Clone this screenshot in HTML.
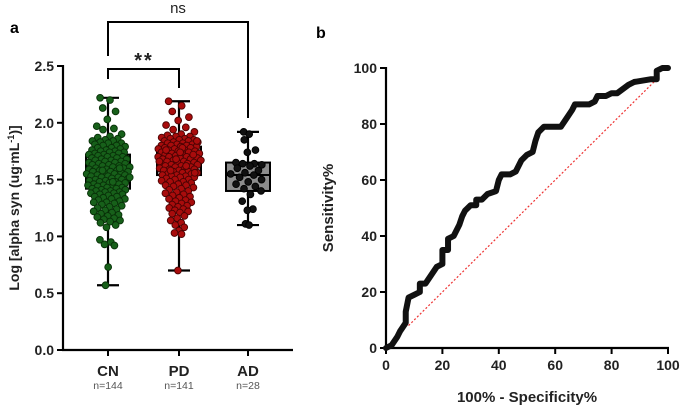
<!DOCTYPE html>
<html><head><meta charset="utf-8">
<style>
html,body{margin:0;padding:0;background:#fff;}
svg{display:block;font-family:"Liberation Sans",Arial,sans-serif;}
</style></head>
<body>
<svg id="fig" width="685" height="411" viewBox="0 0 685 411" xmlns="http://www.w3.org/2000/svg">
<g id="panelA"></g>
<g id="panelB"></g>
</svg>
<script>
// ---------- Panel A data ----------
const groups = ["CN","PD","AD"];
const groupN = ["n=144","n=141","n=28"];
const yTicksA = [0.0,0.5,1.0,1.5,2.0,2.5];
const boxQ1 = [1.42,1.54,1.40];
const boxMed = [1.57,1.70,1.54];
const boxQ3 = [1.72,1.79,1.65];
const boxMin = [0.57,0.70,1.10];
const boxMax = [2.22,2.19,1.92];
const cnValues = [2.22,2.20,2.13,2.10,2.03,1.97,1.95,1.94,1.90,1.88,1.87,1.86,1.85,1.84,1.84,1.83,1.82,1.82,1.81,1.80,1.80,1.79,1.78,1.78,1.77,1.76,1.76,1.75,1.75,1.74,1.74,1.73,1.73,1.72,1.72,1.71,1.71,1.70,1.70,1.69,1.69,1.68,1.68,1.67,1.67,1.66,1.66,1.65,1.65,1.64,1.64,1.63,1.63,1.62,1.62,1.61,1.61,1.60,1.60,1.59,1.59,1.58,1.58,1.57,1.57,1.57,1.56,1.56,1.55,1.55,1.54,1.54,1.53,1.53,1.52,1.52,1.51,1.51,1.50,1.50,1.49,1.49,1.48,1.48,1.47,1.47,1.46,1.46,1.45,1.45,1.44,1.44,1.43,1.43,1.42,1.42,1.41,1.41,1.40,1.40,1.39,1.39,1.38,1.38,1.37,1.37,1.36,1.35,1.35,1.34,1.33,1.33,1.32,1.31,1.30,1.30,1.29,1.28,1.27,1.26,1.25,1.24,1.23,1.22,1.21,1.20,1.19,1.18,1.17,1.16,1.15,1.14,1.13,1.12,1.10,1.08,0.97,0.95,0.93,0.92,0.73,0.57,1.60,1.58,1.52,1.48];
const pdValues = [2.19,2.15,2.10,2.05,2.02,1.98,1.96,1.94,1.92,1.90,1.89,1.88,1.88,1.87,1.86,1.86,1.85,1.85,1.84,1.84,1.83,1.83,1.82,1.82,1.81,1.81,1.80,1.80,1.80,1.79,1.79,1.78,1.78,1.77,1.77,1.76,1.76,1.75,1.75,1.74,1.74,1.73,1.73,1.72,1.72,1.71,1.71,1.70,1.70,1.70,1.69,1.69,1.68,1.68,1.67,1.67,1.66,1.66,1.65,1.65,1.64,1.64,1.63,1.63,1.62,1.62,1.61,1.61,1.60,1.60,1.59,1.59,1.58,1.58,1.57,1.57,1.56,1.56,1.55,1.55,1.54,1.54,1.53,1.53,1.52,1.52,1.51,1.50,1.50,1.49,1.48,1.48,1.47,1.46,1.45,1.45,1.44,1.43,1.42,1.41,1.40,1.39,1.38,1.37,1.36,1.35,1.34,1.33,1.32,1.31,1.30,1.29,1.28,1.27,1.26,1.25,1.24,1.23,1.22,1.21,1.20,1.18,1.16,1.14,1.12,1.10,1.08,1.05,1.03,1.02,0.70,1.84,1.78,1.76,1.72,1.68,1.66,1.62,1.58,1.56,1.74];
const adValues = [1.92,1.90,1.85,1.76,1.74,1.65,1.64,1.64,1.63,1.62,1.60,1.58,1.56,1.55,1.54,1.52,1.50,1.48,1.46,1.44,1.42,1.40,1.37,1.31,1.24,1.23,1.11,1.10];
const groupValues = [cnValues, pdValues, adValues];
const pointFill = ["#17601a","#a80c0c","#111111"];
const pointStroke = ["#083008","#4a0303","#000"];

// ---------- Panel B data ----------
const rocX = [0,2,4,5,7,7,8,10,12,12,14,16,18,20,20,22,22,24,26,27,28,30,32,32,34,36,39,40,41,44,46,48,50,52,53,54,56,58,62,64,66,67,72,74,75,78,80,82,86,88,94,96,96,98,100];
const rocY = [0,1,4,6,9,13,18,19,20,23,23,26,29,30,35,35,39,40,44,47,49,51,51,53,53,55,56,60,62,62,63,67,69,70,74,77,79,79,79,82,85,87,87,88,90,90,91,91,94,95,96,96,99,100,100];
const ticksB = [0,20,40,60,80,100];

const NS="http://www.w3.org/2000/svg";
function mk(parent, tag, attrs, text){
  const e=document.createElementNS(NS,tag);
  for(const k in attrs) e.setAttribute(k,attrs[k]);
  if(text!==undefined) e.textContent=text;
  parent.appendChild(e); return e;
}

// ----- Panel A -----
(function(){
  const g=document.getElementById('panelA');
  const ax0=63, y0=350, y25=66;
  const yS=v=>y0-(v/2.5)*(y0-y25);
  const xC=[108,179,248];
  const hw=22;
  let t;
  t=mk(g,'text',{x:10,y:33,'font-size':16,'font-weight':'bold'},'a');
   
  let ya=mk(g,'line',{x1:ax0,y1:y25-1,x2:ax0,y2:y0+1,stroke:'#000','stroke-width':2.2});
   
  let xa=mk(g,'line',{x1:ax0-1,y1:y0,x2:293,y2:y0,stroke:'#000','stroke-width':2.2});
   
  yTicksA.forEach(v=>{
    const y=yS(v);
    let l=mk(g,'line',{x1:ax0-6,y1:y,x2:ax0,y2:y,stroke:'#000','stroke-width':2});
     
    let tx=mk(g,'text',{x:ax0-9,y:y+5,'font-size':14,'font-weight':'bold','text-anchor':'end',fill:'#222'},v.toFixed(1));
     
  });
  t=mk(g,'text',{x:0,y:0,'font-size':14,'font-weight':'bold','text-anchor':'middle',fill:'#222',transform:'translate(19,208) rotate(-90)'});
  t.innerHTML='Log [alpha syn (ug<tspan dy="-5" font-size="9">.</tspan><tspan dy="5">mL</tspan><tspan dy="-5" font-size="9">-1</tspan><tspan dy="5">)]</tspan>';
   
  groups.forEach((name,i)=>{
    const x=xC[i];
    let tk=mk(g,'line',{x1:x,y1:y0,x2:x,y2:y0+6,stroke:'#000','stroke-width':2});
     
    let lb=mk(g,'text',{x:x,y:376,'font-size':15,'font-weight':'bold','text-anchor':'middle',fill:'#222'},name);
     
    let nl=mk(g,'text',{x:x,y:389,'font-size':10.5,'text-anchor':'middle',fill:'#555'},groupN[i]);
     
    let w=mk(g,'line',{x1:x,y1:yS(boxMin[i]),x2:x,y2:yS(boxMax[i]),stroke:'#000','stroke-width':2.2});
     
    [boxMin[i],boxMax[i]].forEach(v=>{
      let c=mk(g,'line',{x1:x-11,y1:yS(v),x2:x+11,y2:yS(v),stroke:'#000','stroke-width':2.2});
       
    });
    let b=mk(g,'rect',{x:x-hw,y:yS(boxQ3[i]),width:hw*2,height:yS(boxQ1[i])-yS(boxQ3[i]),fill:'#8c8c8c',stroke:'#000','stroke-width':2});
     
    let m=mk(g,'line',{x1:x-hw,y1:yS(boxMed[i]),x2:x+hw,y2:yS(boxMed[i]),stroke:'#000','stroke-width':2});
     
    const vals=groupValues[i];
    const range=(boxMax[i]-boxMin[i]);
    vals.forEach((v,k)=>{
      const dens=Math.max(0.15,1-Math.abs(v-boxMed[i])/(range*0.6));
      const j=(((k*0.6180339)%1)*2-1);
      const px=x+j*(i===2?19:23)*dens;
      let p=mk(g,'circle',{cx:px,cy:yS(v),r:3.4,fill:pointFill[i],stroke:pointStroke[i],'stroke-width':0.9});
       
    });
  });
  let br1=mk(g,'path',{d:'M108,56 L108,22 L248,22 L248,118',fill:'none',stroke:'#000','stroke-width':2});
   
  t=mk(g,'text',{x:178,y:13,'font-size':15,'text-anchor':'middle',fill:'#222'},'ns');
   
  let br2=mk(g,'path',{d:'M108,79 L108,69 L179,69 L179,88',fill:'none',stroke:'#000','stroke-width':2});
   
  t=mk(g,'text',{x:144,y:67,'font-size':20,'font-weight':'bold','text-anchor':'middle',fill:'#222','letter-spacing':'2'},'**');
   
})();

// ----- Panel B -----
(function(){
  const g=document.getElementById('panelB');
  const x0=386,x1=668,y0=348,y1=68;
  const xS=v=>x0+v/100*(x1-x0);
  const yS=v=>y0-v/100*(y0-y1);
  let t=mk(g,'text',{x:316,y:38,'font-size':16,'font-weight':'bold'},'b');
   
  let ya=mk(g,'line',{x1:x0,y1:y1-1,x2:x0,y2:y0+1,stroke:'#000','stroke-width':2.2});
   
  let xa=mk(g,'line',{x1:x0-1,y1:y0,x2:x1+1,y2:y0,stroke:'#000','stroke-width':2.2});
   
  ticksB.forEach(v=>{
    let l=mk(g,'line',{x1:x0-6,y1:yS(v),x2:x0,y2:yS(v),stroke:'#000','stroke-width':2});
     
    let tx=mk(g,'text',{x:x0-9,y:yS(v)+5,'font-size':14,'font-weight':'bold','text-anchor':'end',fill:'#222'},String(v));
     
    let l2=mk(g,'line',{x1:xS(v),y1:y0,x2:xS(v),y2:y0+6,stroke:'#000','stroke-width':2});
     
    let tx2=mk(g,'text',{x:xS(v),y:y0+22,'font-size':14,'font-weight':'bold','text-anchor':'middle',fill:'#222'},String(v));
     
  });
  t=mk(g,'text',{x:527,y:402,'font-size':15,'font-weight':'bold','text-anchor':'middle',fill:'#222'},'100% - Specificity%');
   
  t=mk(g,'text',{x:0,y:0,'font-size':15,'font-weight':'bold','text-anchor':'middle',fill:'#222',transform:'translate(333,208) rotate(-90)'},'Sensitivity%');
   
  let d=mk(g,'line',{x1:xS(8),y1:yS(8),x2:xS(96),y2:yS(96),stroke:'#e33','stroke-width':1.2,'stroke-dasharray':'2,2'});
   
  const pts=rocX.map((v,i)=>xS(v)+','+yS(rocY[i])).join(' ');
  let c=mk(g,'polyline',{points:pts,fill:'none',stroke:'#111','stroke-width':6,'stroke-linejoin':'round','stroke-linecap':'round'});
   
})();
</script>
</body></html>
